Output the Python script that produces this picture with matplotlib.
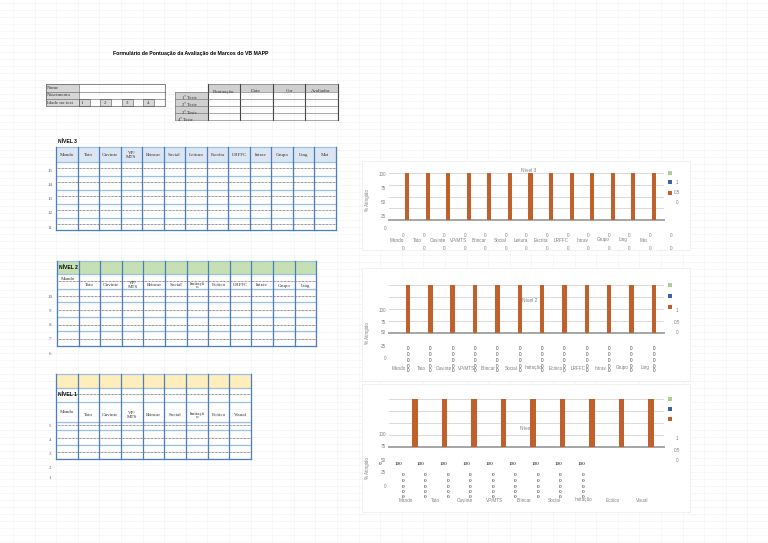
import numpy as np
import matplotlib
matplotlib.use("Agg")
import matplotlib.pyplot as plt
from matplotlib.patches import Rectangle
from matplotlib.transforms import blended_transform_factory

W, H = 768, 543

# ---- data ----
cats3 = ['Mando', 'Tato', 'Ouvinte', 'VP/MTS', 'Brincar', 'Social', 'Leitura',
         'Escrita', 'LRFFC', 'Intrav', 'Grupo', 'Ling', 'Mat']
cats2 = ['Mando', 'Tato', 'Ouvinte', 'VP/MTS', 'Brincar', 'Social', 'Imitação',
         'Ecóico', 'LRFFC', 'Intrav', 'Grupo', 'Ling']
cats1 = ['Mando', 'Tato', 'Ouvinte', 'VP/MTS', 'Brincar', 'Social', 'Imitação',
         'Ecóico', 'Visual']
pct3 = [100, 100, 100, 100, 100, 100, 100, 100, 100, 100, 100, 100, 100]
pct2 = [100, 100, 100, 100, 100, 100, 100, 100, 100, 100, 100, 100]
pct1 = [100, 100, 100, 100, 100, 100, 100, 100, 100]
score3 = [0, 0, 0, 0, 0, 0, 0, 0, 0, 0, 0, 0, 0]
score2 = [0, 0, 0, 0, 0, 0, 0, 0, 0, 0, 0, 0]
score1 = [0, 0, 0, 0, 0, 0, 0, 0, 0]
yticks = [100, 75, 50, 25, 0]

# table headers
hdr3 = ['Mando', 'Tato', 'Ouvinte', 'VP/\nMTS', 'Brincar', 'Social', 'Leitura',
        'Escrita', 'LRFFC', 'Intrav', 'Grupo', 'Ling', 'Mat']
hdr2 = ['Mando', 'Tato', 'Ouvinte', 'VP/\nMTS', 'Brincar', 'Social', 'Imitaçã\no',
        'Ecóico', 'LRFFC', 'Intrav', 'Grupo', 'Ling']
hdr1 = ['Mando', 'Tato', 'Ouvinte', 'VP/\nMTS', 'Brincar', 'Social', 'Imitaçã\no',
        'Ecóico', 'Visual']
rows3 = ['15', '14', '13', '12', '11']
rows2 = ['10', '9', '8', '7', '6']
rows1 = ['5', '4', '3', '2', '1']
testes = ['1º Teste', '2º Teste', '3º Teste', '4º Teste']
info_cols = ['Pontuação', 'Data', 'Cor', 'Avaliador']

ORANGE = '#c0612b'
BLUE = '#3565a8'
GREEN = '#a9d18e'
GRAYTXT = '#7f7f7f'
SERIF = ['Liberation Serif', 'DejaVu Serif']
SANS = ['Liberation Sans', 'DejaVu Sans']

fig = plt.figure(figsize=(W / 100, H / 100), dpi=100)
bg = fig.add_axes([0, 0, 1, 1])
bg.set_xlim(0, W)
bg.set_ylim(H, 0)
bg.axis('off')

# faint spreadsheet grid
for x in np.arange(13, W, 21.6):
    bg.plot([x, x], [0, H], color='#f2f2f2', lw=0.4, zorder=0)
for y in np.arange(3, H, 7):
    bg.plot([0, W], [y, y], color='#f2f2f2', lw=0.4, zorder=0)


def hline(y, x0, x1, **kw):
    bg.plot([x0, x1], [y, y], **kw)


def vline(x, y0, y1, **kw):
    bg.plot([x, x], [y0, y1], **kw)


# ---- title + info tables ----
bg.text(191, 53, 'Formulário de Pontuação da Avaliação de Marcos do VB MAPP',
        fontsize=3.7, fontweight='bold', family=SANS, ha='center', va='center')

bg.add_patch(Rectangle((46, 84), 33, 22, fc='#d6d6d6', ec='none', zorder=1))
for bx in [79, 100, 122, 143]:
    bg.add_patch(Rectangle((bx, 99), 11, 7, fc='#d6d6d6', ec='#555555', lw=0.4, zorder=1))
bg.add_patch(Rectangle((46, 84), 119, 22, fc='none', ec='#555555', lw=0.5, zorder=2))
hline(91.5, 46, 165, color='#555555', lw=0.4)
hline(99, 46, 165, color='#555555', lw=0.4)
vline(79, 84, 106, color='#555555', lw=0.4)
for t, yy in zip(['Nome', 'Nascimento', 'Idade no test'], [88, 95.5, 102.5]):
    bg.text(47, yy, t, fontsize=3.6, family=SERIF, va='center', color='#333333')
for k, bx in enumerate([79, 100, 122, 143]):
    bg.text(bx + (2 if k == 0 else 5), 102.5, str(k + 1), fontsize=3.6, family=SERIF,
            va='center', ha='left' if k == 0 else 'center', color='#333333')

bg.add_patch(Rectangle((208, 84), 130, 8, fc='#d0d0d0', ec='none', zorder=1))
bg.add_patch(Rectangle((175, 92), 33, 28, fc='#d0d0d0', ec='none', zorder=1))
for x in [208, 240, 273, 305, 338]:
    vline(x, 84, 120, color='#444444', lw=0.8)
vline(175, 92, 120, color='#666666', lw=0.4)
for y in [84, 92, 99, 106, 113, 120]:
    hline(y, 175 if y > 84 else 208, 338, color='#666666', lw=0.4)
for t, cx in zip(info_cols, [224, 256, 289, 321]):
    bg.text(cx, 91.5, t, fontsize=3.6, family=SERIF, ha='center', va='center', color='#333333')
for t, yy, xx in zip(testes, [98, 105.5, 113, 120], [182, 182, 182, 178]):
    bg.text(xx, yy, t, fontsize=3.4, family=SERIF, va='center', color='#333333')

# ---- level tables ----
VBLUE = '#4a7fbf'
HBLUE = '#9cc0e4'
DOT = dict(color='#333333', lw=0.5, linestyle=(0, (1, 1)))


def level_table(x0, cw, hdr, ytop, solids, dots, ybot, hdr_y, rowlabels, row_y):
    n = len(hdr)
    x1 = x0 + n * cw
    for y in solids:
        hline(y, x0, x1, color=HBLUE, lw=0.9, zorder=2)
    hline(ybot, x0, x1, color=VBLUE, lw=0.9, zorder=2)
    for y in dots:
        hline(y, x0, x1, zorder=2, **DOT)
    for k in range(n + 1):
        vline(x0 + k * cw, ytop, ybot, color=VBLUE, lw=0.9, zorder=3)
    for k, t in enumerate(hdr):
        yy = hdr_y[0] if k == 0 else hdr_y[1]
        bg.text(x0 + (k + 0.5) * cw, yy, t, fontsize=3.6, family=SERIF, ha='center',
                va='center', color='#333333', linespacing=1.0, zorder=4)
    for t, yy in zip(rowlabels, row_y):
        bg.text(50, yy, t, fontsize=3.6, family=SERIF, ha='center', va='center', color='#666666')
    return x1


# level 3
bg.text(58, 141, 'NÍVEL 3', fontsize=3.6, fontweight='bold', family=SANS, va='center')
bg.add_patch(Rectangle((56, 147), 13 * 21.54, 15, fc='#dce6f2', ec='none', zorder=1))
level_table(56, 21.54, hdr3, 147, [147, 162, 176, 190, 204, 218],
            [168, 182, 196, 210, 224], 230, (155, 155), rows3,
            [171, 185, 199, 213, 228])

# level 2
bg.add_patch(Rectangle((57, 261), 12 * 21.6, 13, fc='#c5e0b4', ec='none', zorder=1))
level_table(57, 21.6, hdr2, 261, [261, 274, 289, 302, 317, 331],
            [281, 296, 310, 325, 339], 346, (279, 285.5), rows2,
            [297, 311, 325, 339, 354])
bg.text(59, 267.5, 'NÍVEL 2', fontsize=3.6, fontweight='bold', family=SANS, va='center', zorder=5)

# level 1
bg.add_patch(Rectangle((56, 374), 9 * 21.67, 14, fc='#ffeebb', ec='none', zorder=1))
level_table(56, 21.67, hdr1, 374, [374, 388, 402, 422, 430, 445],
            [394, 425, 438, 452], 459, (412, 415.5), rows1,
            [426, 440, 454, 468, 478])
bg.text(58, 394, 'NÍVEL 1', fontsize=3.6, fontweight='bold', family=SANS, va='center', zorder=1)


# ---- charts ----
def chart(box, left, right, top, axis, first_bar, step, cats, pct, score):
    bg.add_patch(Rectangle((box[0], box[1]), box[2] - box[0], box[3] - box[1],
                           fc='white', ec='#ebebeb', lw=0.5, zorder=5))
    ax = fig.add_axes([left / W, 1 - axis / H, (right - left) / W, (axis - top) / H])
    ax.set_facecolor('none')
    xmin = -(first_bar - left) / step
    ax.set_xlim(xmin, xmin + (right - left) / step)
    ax.set_ylim(0, 100)
    x = np.arange(len(cats))
    bw = 0.2
    ax.bar(x - 2 * bw, score, bw, color=GREEN)
    ax.bar(x - bw, score, bw, color=BLUE)
    ax.bar(x, pct, bw, color=ORANGE, zorder=3)
    ax.set_yticks(yticks)
    ax.yaxis.grid(True, color='#d9d9d9', lw=0.7)
    ax.set_axisbelow(True)
    for s in ['top', 'left', 'right']:
        ax.spines[s].set_visible(False)
    ax.spines['bottom'].set_color('#a6a6a6')
    ax.spines['bottom'].set_linewidth(1.4)
    ax.tick_params(length=0, labelleft=False, labelbottom=False)
    tr = blended_transform_factory(ax.transData, bg.transData)
    return ax, tr


def small(x, y, t, tr=None, **kw):
    kw.setdefault('color', GRAYTXT)
    kw.setdefault('fontsize', 3.3)
    kw.setdefault('ha', 'center')
    bg.text(x, y, t, transform=tr if tr is not None else bg.transData,
            family=SANS, va='center', zorder=6, **kw)


def legend(ys, labels, label_ys):
    for c, y in zip([GREEN, BLUE, ORANGE], ys):
        bg.add_patch(Rectangle((668, y - 2), 4, 4, fc=c, ec='none', zorder=6))
    for t, y in zip(labels, label_ys):
        small(677, y, t)


def yticklabels(ys):
    for t, yy in zip(yticks, ys):
        small(386, yy, str(t), ha='right')


# Nivel 3
small(529, 171, 'Nível 3', fontsize=3.5)
ax3, tr3 = chart((362, 161, 690, 250), 389, 664, 173, 220, 407, 20.58, cats3, pct3, score3)
yticklabels([175, 189, 202, 216, 229])
small(367, 200, '% Atingido', rotation=90)
for i, c in enumerate(cats3):
    small(i - 0.49, 240, c, tr3)
for i in range(len(cats3) + 1):
    small(i - 0.19, 235.5, '0', tr3)
    small(i - 0.19, 248, '0', tr3)
legend([173, 182, 193], ['1', '0.5', '0'], [182, 193, 202])

# Nivel 2
small(530, 300, 'Nível 2', fontsize=3.5)
ax2, tr2 = chart((362, 268, 690, 381), 389, 664, 285, 333, 408, 22.36, cats2, pct2, score2)
yticklabels([310, 322, 333, 346, 358])
small(367, 333, '% Atingido', rotation=90)
for i, c in enumerate(cats2):
    for yy in [349, 355, 361, 366, 371]:
        small(i, yy, '0', tr2, color='#404040')
    small(i - 0.4, 368, c, tr2)
legend([285, 296, 307], ['1', '0.5', '0'], [310, 322, 332])

# Nivel 1
small(528, 428, 'Nível 1', fontsize=3.5)
ax1, tr1 = chart((362, 384, 690, 512), 389, 664, 399, 447, 415, 29.5, cats1, pct1, score1)
yticklabels([434, 447, 460, 473, 487])
small(367, 468, '% Atingido', rotation=90)
bg.text(380, 464, '0', fontsize=3.6, family=SERIF, ha='center', va='center', zorder=6)
for k, v in enumerate(pct1):
    bg.text(398 + k * 22.9, 464, str(v), fontsize=3.6, family=SERIF, ha='center',
            va='center', zorder=6)
    for yy in [475, 481, 486.5, 492, 497]:
        bg.text(403 + k * 22.5, yy, '0', fontsize=3.6, family=SERIF, ha='center',
                va='center', zorder=6)
for i, c in enumerate(cats1):
    small(i - 0.3, 500, c, tr1)
legend([399, 409, 419], ['1', '0.5', '0'], [438, 451, 460])

fig.savefig('out.png', dpi=100)
